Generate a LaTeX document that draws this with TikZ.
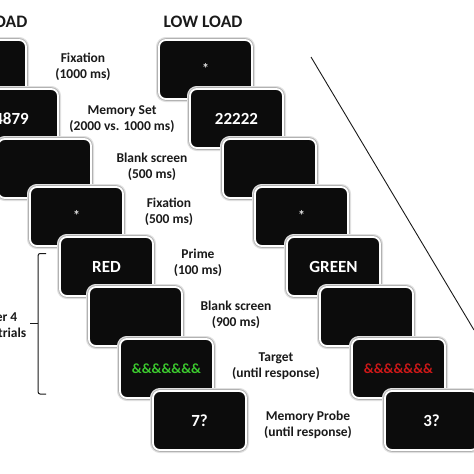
\documentclass[tikz,border=0pt]{standalone}
\usepackage{fontspec}
\setmainfont{Carlito}
\definecolor{scrfill}{HTML}{0C0C0C}
\definecolor{tgtgreen}{HTML}{3CCB2E}
\definecolor{tgtred}{HTML}{D01818}
\definecolor{labeltxt}{HTML}{1A1A1A}
\newcommand{\tgtfont}{\fontsize{14}{16}\selectfont\bfseries}
\newcommand{\fixstar}{{\fontsize{14}{15}\selectfont\bfseries\textcolor{black!12}{\raisebox{-4pt}[0pt][0pt]{*}}}}
\tikzset{
  screen/.style={rectangle, rounded corners=7pt, fill=scrfill, draw=white, line width=1.8pt,
    minimum width=93pt, minimum height=59pt, inner sep=0pt, text=white,
    font=\fontsize{17}{20}\selectfont\bfseries,
    preaction={draw=black!12, line width=6pt},
    preaction={draw=black!30, line width=3.6pt}},
  label/.style={align=center, text=labeltxt, inner sep=0pt,
    font=\fontsize{13.5}{16}\selectfont\bfseries},
  title/.style={text=labeltxt, inner sep=0pt, font=\fontsize{17.5}{20}\selectfont\bfseries}
}
\begin{document}
\begin{tikzpicture}[x=1pt,y=-1pt]
\useasboundingbox (0,0) rectangle (474,474);
\fill[white] (0,0) rectangle (474,474);
\clip (0,0) rectangle (474,474);

% titles
\node[title, anchor=east] (tHigh) at (27.5,22) {LOAD};
\node[title] (tLow) at (203,22) {LOW LOAD};

% left column (high load)
\node[screen] (L1) at (-20.5,69.5) {};
\node[screen] (L2) at (11.5,118.5) {4879};
\node[screen] (L3) at (44.5,168.5) {};
\node[screen] (L4) at (76.5,216.5) {\fixstar};
\node[screen] (L5) at (106.5,266.5) {RED};
\node[screen] (L6) at (135.5,316.5) {};
\node[screen] (L7) at (166.5,368.5) {\tgtfont\textcolor{tgtgreen}{\&\&\&\&\&\&\&}};
\node[screen] (L8) at (199.5,420.5) {7?};

% right column (low load)
\node[screen] (R1) at (205.5,69.5) {\fixstar};
\node[screen] (R2) at (236.5,118.5) {22222};
\node[screen] (R3) at (269.5,168.5) {};
\node[screen] (R4) at (301.5,216.5) {\fixstar};
\node[screen] (R5) at (333.5,266.5) {GREEN};
\node[screen] (R6) at (366.5,316.5) {};
\node[screen] (R7) at (398.5,368.5) {\tgtfont\textcolor{tgtred}{\&\&\&\&\&\&\&}};
\node[screen] (R8) at (431.5,420.5) {3?};

% labels
\node[label] (lab1) at (83,67) {Fixation\\(1000 ms)};
\node[label] (lab2) at (122,119) {Memory Set\\(2000 vs. 1000 ms)};
\node[label] (lab3) at (152,167) {Blank screen\\(500 ms)};
\node[label] (lab4) at (169,212) {Fixation\\(500 ms)};
\node[label] (lab5) at (198,263) {Prime\\(100 ms)};
\node[label] (lab6) at (236,315) {Blank screen\\(900 ms)};
\node[label] (lab7) at (276,366) {Target\\(until response)};
\node[label] (lab8) at (308,425) {Memory Probe\\(until response)};

% bracket
\node[label, anchor=east] (br1) at (17.5,317) {er 4};
\node[label, anchor=east] (br2) at (26.5,333) {trials};
\draw[line width=1pt, labeltxt] (46,253.5) -- (40,253.5) to[out=180,in=90] (38,256) -- (38,391.5) to[out=-90,in=180] (40,394) -- (46,394);
\draw[line width=1pt, labeltxt] (38,323) -- (30,323);

% diagonal line
\draw[line width=0.9pt, labeltxt] (311,57) -- (474,330);
\end{tikzpicture}
\end{document}
